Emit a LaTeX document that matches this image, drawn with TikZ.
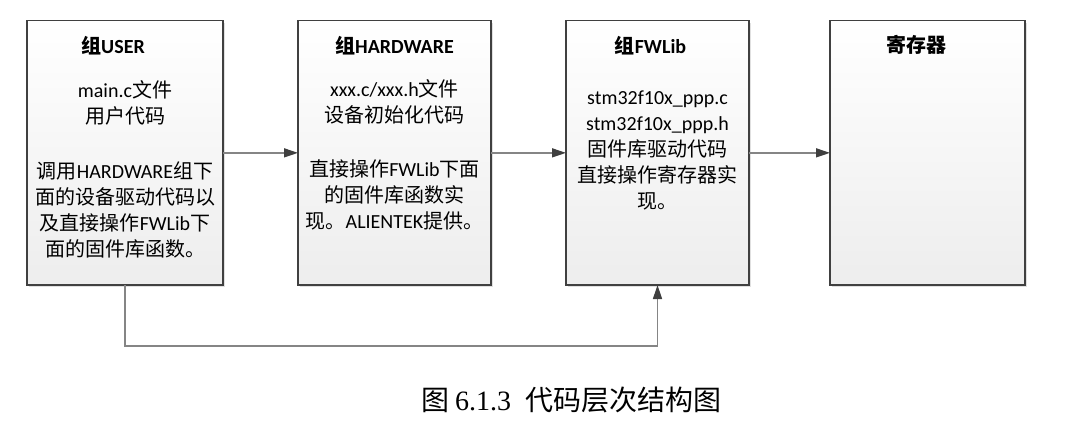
\documentclass[tikz,border=0pt]{standalone}
\usepackage{fontspec}
\setmainfont{Carlito}
\newfontfamily\cjk{Noto Sans CJK SC}
\newfontfamily\capserif{Liberation Serif}
\usepackage{tikz}
\usetikzlibrary{arrows.meta, positioning, shadows}
\definecolor{boxline}{HTML}{404040}
\definecolor{wire}{HTML}{858585}
\definecolor{tipgrey}{HTML}{3F3F3F}
\newcommand{\zh}[1]{{\cjk #1}}
\tikzstyle{layer} = [rectangle, draw=boxline, line width=1.1pt, top color=white, bottom color=black!7, minimum height=264.3pt, inner sep=0pt, outer sep=0pt, drop shadow={shadow xshift=2pt, shadow yshift=-2pt, fill=black!12, opacity=1}]
\tikzstyle{title} = [font=\fontsize{20}{26}\selectfont\bfseries, inner sep=0pt]
\tikzstyle{body} = [font=\fontsize{20}{26}\selectfont, align=center, anchor=north, inner sep=0pt]
\tikzstyle{flow} = [line width=1.4pt, color=wire, -{Triangle[length=14pt, width=9pt, color=tipgrey]}]

\begin{document}
\begin{tikzpicture}[x=1pt, y=-1pt]
\useasboundingbox (0,0) rectangle (1089,425);

% the four layers
\node (user) [layer, minimum width=196pt, anchor=north west] at (27,20.7) {};
\node (hw) [layer, minimum width=193pt, right=75pt of user] {};
\node (fw) [layer, minimum width=183pt, right=75pt of hw] {};
\node (reg) [layer, minimum width=195pt, right=81pt of fw] {};

\node (usertitle) [title] at ([xshift=-12pt, yshift=-24.5pt]user.north) {\zh{组}USER};
\node (hwtitle) [title] at ([yshift=-24.5pt]hw.north) {\zh{组}HARDWARE};
\node (fwtitle) [title] at ([xshift=-7pt, yshift=-24.5pt]fw.north) {\zh{组}FWLib};
\node (regtitle) [title] at ([xshift=-11pt, yshift=-24.5pt]reg.north) {\zh{寄存器}};

\node (userbody) [body] at ([yshift=-60pt]user.north) {main.c\zh{文件}\\\zh{用户代码}\\[29pt]\zh{调用}HARDWARE\zh{组下}\\\zh{面的设备驱动代码以}\\\zh{及直接操作}FWLib\zh{下}\\\zh{面的固件库函数。}};
\node (hwbody) [body] at ([yshift=-59pt]hw.north) {xxx.c/xxx.h\zh{文件}\\\zh{设备初始化代码}\\[28pt]\zh{直接操作}FWLib\zh{下面}\\\zh{的固件库函数实}\\\zh{现。}ALIENTEK\zh{提供。}};
\node (fwbody) [body] at ([yshift=-70pt]fw.north) {stm32f10x\_ppp.c\\stm32f10x\_ppp.h\\\zh{固件库驱动代码}\\\zh{直接操作寄存器实}\\\zh{现。}};

% connectors
\draw[flow] (user) -- (hw);
\draw[flow] (hw) -- (fw);
\draw[flow] (fw) -- (reg);
\draw[flow] (user.south) -- ++(0,61) -| (fw.south);

\node (caption) [font=\fontsize{28}{32}\selectfont, anchor=west, inner sep=0pt] at (421,400) {\zh{图}\hspace{6pt}{\capserif 6.1.3}\hspace{14pt}\zh{代码层次结构图}};

\end{tikzpicture}
\end{document}
